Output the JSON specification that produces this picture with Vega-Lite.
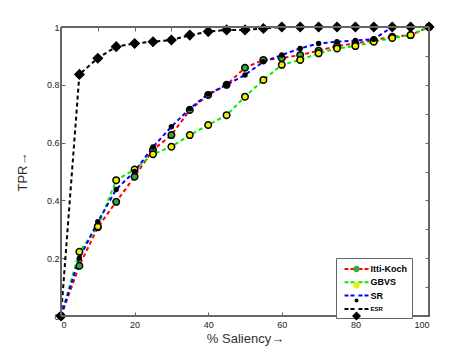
{
  "$schema": "https://vega.github.io/schema/vega-lite/v6.json",
  "width": 368,
  "height": 289,
  "autosize": {"type": "none"},
  "padding": {"left": 61, "top": 27, "right": 45, "bottom": 39},
  "background": "white",
  "config": {
    "view": {"stroke": null},
    "font": "Liberation Sans",
    "axis": {"labelFont": "Liberation Sans", "titleFont": "Liberation Sans", "labelFontSize": 9, "labelColor": "#222", "titleColor": "#333", "titleFontWeight": "normal", "titleFontSize": 13, "domainColor": "#666", "tickColor": "#666", "grid": false, "tickSize": -4}
  },
  "data": {"values": [
    {"m": "Itti-Koch", "x": 0, "y": 0}, {"m": "Itti-Koch", "x": 5, "y": 0.174}, {"m": "Itti-Koch", "x": 10, "y": 0.307}, {"m": "Itti-Koch", "x": 15, "y": 0.395}, {"m": "Itti-Koch", "x": 20, "y": 0.482}, {"m": "Itti-Koch", "x": 25, "y": 0.575}, {"m": "Itti-Koch", "x": 30, "y": 0.626}, {"m": "Itti-Koch", "x": 35, "y": 0.713}, {"m": "Itti-Koch", "x": 40, "y": 0.765}, {"m": "Itti-Koch", "x": 45, "y": 0.8}, {"m": "Itti-Koch", "x": 50, "y": 0.859}, {"m": "Itti-Koch", "x": 55, "y": 0.886}, {"m": "Itti-Koch", "x": 60, "y": 0.892}, {"m": "Itti-Koch", "x": 65, "y": 0.903}, {"m": "Itti-Koch", "x": 70, "y": 0.918}, {"m": "Itti-Koch", "x": 75, "y": 0.934}, {"m": "Itti-Koch", "x": 80, "y": 0.943}, {"m": "Itti-Koch", "x": 85, "y": 0.955}, {"m": "Itti-Koch", "x": 90, "y": 0.966}, {"m": "Itti-Koch", "x": 95, "y": 0.972}, {"m": "Itti-Koch", "x": 100, "y": 1},
    {"m": "GBVS", "x": 0, "y": 0}, {"m": "GBVS", "x": 5, "y": 0.222}, {"m": "GBVS", "x": 10, "y": 0.31}, {"m": "GBVS", "x": 15, "y": 0.47}, {"m": "GBVS", "x": 20, "y": 0.507}, {"m": "GBVS", "x": 25, "y": 0.56}, {"m": "GBVS", "x": 30, "y": 0.586}, {"m": "GBVS", "x": 35, "y": 0.626}, {"m": "GBVS", "x": 40, "y": 0.661}, {"m": "GBVS", "x": 45, "y": 0.695}, {"m": "GBVS", "x": 50, "y": 0.759}, {"m": "GBVS", "x": 55, "y": 0.817}, {"m": "GBVS", "x": 60, "y": 0.869}, {"m": "GBVS", "x": 65, "y": 0.886}, {"m": "GBVS", "x": 70, "y": 0.909}, {"m": "GBVS", "x": 75, "y": 0.926}, {"m": "GBVS", "x": 80, "y": 0.934}, {"m": "GBVS", "x": 85, "y": 0.949}, {"m": "GBVS", "x": 90, "y": 0.962}, {"m": "GBVS", "x": 95, "y": 0.972}, {"m": "GBVS", "x": 100, "y": 1},
    {"m": "SR", "x": 0, "y": 0}, {"m": "SR", "x": 5, "y": 0.2}, {"m": "SR", "x": 10, "y": 0.326}, {"m": "SR", "x": 15, "y": 0.438}, {"m": "SR", "x": 20, "y": 0.5}, {"m": "SR", "x": 25, "y": 0.585}, {"m": "SR", "x": 30, "y": 0.655}, {"m": "SR", "x": 35, "y": 0.718}, {"m": "SR", "x": 40, "y": 0.768}, {"m": "SR", "x": 45, "y": 0.8}, {"m": "SR", "x": 50, "y": 0.834}, {"m": "SR", "x": 55, "y": 0.88}, {"m": "SR", "x": 60, "y": 0.903}, {"m": "SR", "x": 65, "y": 0.926}, {"m": "SR", "x": 70, "y": 0.943}, {"m": "SR", "x": 75, "y": 0.949}, {"m": "SR", "x": 80, "y": 0.953}, {"m": "SR", "x": 85, "y": 0.958}, {"m": "SR", "x": 90, "y": 1}, {"m": "SR", "x": 95, "y": 1}, {"m": "SR", "x": 100, "y": 1},
    {"m": "ESR", "x": 0, "y": 0}, {"m": "ESR", "x": 5, "y": 0.836}, {"m": "ESR", "x": 10, "y": 0.892}, {"m": "ESR", "x": 15, "y": 0.932}, {"m": "ESR", "x": 20, "y": 0.943}, {"m": "ESR", "x": 25, "y": 0.949}, {"m": "ESR", "x": 30, "y": 0.955}, {"m": "ESR", "x": 35, "y": 0.972}, {"m": "ESR", "x": 40, "y": 0.984}, {"m": "ESR", "x": 45, "y": 0.99}, {"m": "ESR", "x": 50, "y": 0.99}, {"m": "ESR", "x": 55, "y": 0.995}, {"m": "ESR", "x": 60, "y": 1}, {"m": "ESR", "x": 65, "y": 1}, {"m": "ESR", "x": 70, "y": 1}, {"m": "ESR", "x": 75, "y": 1}, {"m": "ESR", "x": 80, "y": 1}, {"m": "ESR", "x": 85, "y": 1}, {"m": "ESR", "x": 90, "y": 1}, {"m": "ESR", "x": 95, "y": 1}, {"m": "ESR", "x": 100, "y": 1}
  ]},
  "resolve": {"axis": {"x": "independent", "y": "independent"}},
  "layer": [
    {
      "layer": [
        {
          "mark": {"type": "line", "strokeWidth": 2, "strokeDash": [4, 3]},
          "encoding": {
            "x": {"field": "x", "type": "quantitative", "scale": {"domain": [0, 100], "nice": false}, "axis": {"title": "% Saliency\u2192", "values": [0,10,20,30,40,50,60,70,80,90,100], "titlePadding": 3, "labelPadding": 8}},
            "y": {"field": "y", "type": "quantitative", "scale": {"domain": [0, 1], "nice": false}, "axis": {"title": "TPR\u2192", "format": ".1~f", "values": [0,0.1,0.2,0.3,0.4,0.5,0.6,0.7,0.8,0.9,1], "titlePadding": 17, "labelPadding": 6}},
            "color": {"field": "m", "type": "nominal", "sort": ["Itti-Koch", "GBVS", "SR", "ESR"],
              "scale": {"range": ["#ff0000", "#00ee00", "#0000ff", "#000000"]},
              "legend": {"title": null, "orient": "none", "legendX": 275, "legendY": 231, "zindex": 0,
                "symbolType": "M-2.4,0H-1.6M-1.2,0H-0.4M0.4,0H1.2M1.6,0H2.4", "symbolStrokeWidth": 2, "symbolSize": 100,
                "symbolOffset": 9.5, "labelOffset": 8, "labelExpr": "datum.label + '          '",
                "labelFontSize": 9, "labelFontWeight": "bold", "labelColor": "#000", "strokeColor": "#666", "fillColor": "white", "padding": 5, "rowPadding": 2.3,
                "encode": {"labels": {"update": {"fontSize": {"signal": "datum.label === 'ESR' ? 6 : 9"}}}}}},
            "order": {"field": "x"}
          }
        },
        {
          "mark": {"type": "point", "filled": false, "strokeWidth": 1.5, "opacity": 1, "size": 100},
          "encoding": {
            "x": {"field": "x", "type": "quantitative"},
            "y": {"field": "y", "type": "quantitative"},
            "shape": {"field": "m", "type": "nominal", "scale": {"domain": ["Itti-Koch", "GBVS", "SR", "ESR"], "range": ["M0.65,0A0.65,0.65 0 1,1 -0.65,0A0.65,0.65 0 1,1 0.65,0Z", "M0.65,0A0.65,0.65 0 1,1 -0.65,0A0.65,0.65 0 1,1 0.65,0Z", "M0.4,0A0.4,0.4 0 1,1 -0.4,0A0.4,0.4 0 1,1 0.4,0Z", "M0,-0.9L0.9,0L0,0.9L-0.9,0Z"]},
              "legend": {"title": null, "orient": "none", "legendX": 275, "legendY": 231, "zindex": 2, "symbolOffset": 9.5, "symbolSize": 100, "labelOpacity": 0, "labelFontSize": 9, "labelFontWeight": "bold", "labelOffset": 8, "padding": 5, "rowPadding": 2.3, "symbolStrokeColor": "#000", "symbolStrokeWidth": 1.5,
                "encode": {"labels": {"update": {"fontSize": {"signal": "datum.label === 'ESR' ? 6 : 9"}}}}}},
            "fill": {"field": "m", "type": "nominal", "scale": {"domain": ["Itti-Koch", "GBVS", "SR", "ESR"], "range": ["#33aa33", "#eeee00", "#000000", "#000000"]}, "legend": {"orient": "none", "legendX": 275, "legendY": 231}},
            "stroke": {"value": "#000"}
          }
        }
      ]
    },
    {
      "mark": {"type": "rect", "fill": null, "stroke": "#666", "strokeWidth": 1},
      "encoding": {
        "x": {"datum": 0, "type": "quantitative", "scale": {"domain": [0, 100], "nice": false}, "axis": {"orient": "top", "labels": false, "title": null, "values": [0,10,20,30,40,50,60,70,80,90,100]}},
        "x2": {"datum": 100},
        "y": {"datum": 0, "type": "quantitative", "scale": {"domain": [0, 1], "nice": false}, "axis": {"orient": "right", "labels": false, "title": null, "values": [0,0.1,0.2,0.3,0.4,0.5,0.6,0.7,0.8,0.9,1]}},
        "y2": {"datum": 1}
      }
    }
  ]
}
